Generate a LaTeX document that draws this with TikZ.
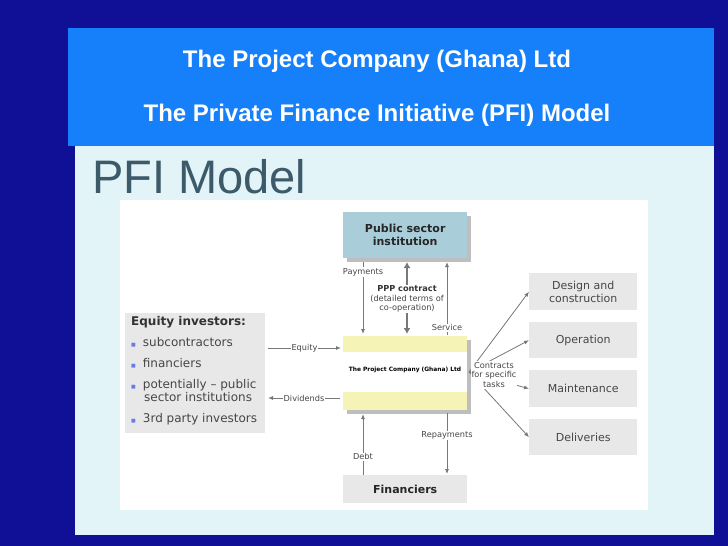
\documentclass[tikz,border=0pt]{standalone}
\usepackage{fontspec}
\setmainfont{DejaVu Sans}
\newfontfamily\banner{Liberation Sans}
\usetikzlibrary{arrows.meta}
\definecolor{bgblue}{RGB}{16,16,150}
\definecolor{banblue}{RGB}{22,128,250}
\definecolor{panel}{RGB}{226,244,248}
\definecolor{pubfill}{RGB}{170,205,218}
\definecolor{yel}{RGB}{246,243,182}
\definecolor{boxgray}{RGB}{232,232,232}
\definecolor{shad}{RGB}{190,190,190}
\definecolor{arr}{RGB}{120,120,120}
\definecolor{titl}{RGB}{60,90,105}
\definecolor{txt}{RGB}{70,70,70}
\newcommand{\bul}{{\color{pubfill!60!blue}\fontsize{5}{5}\selectfont ■}\hspace{7pt}}
\begin{document}
\begin{tikzpicture}[x=1pt,y=-1pt,
  sbox/.style={draw=none,minimum width=124pt,inner sep=0pt,font=\bfseries\fontsize{11}{13}\selectfont,text=black!85},
  rbox/.style={fill=boxgray,minimum width=108pt,inner sep=0pt,align=center,font=\fontsize{11}{13}\selectfont,text=txt},
  lab/.style={font=\fontsize{8.2}{9.5}\selectfont,text=txt,fill=white,inner sep=1pt,align=center},
  ar/.style={draw=arr,line width=0.8pt,-{Latex[length=5pt,width=4pt]}}]
\fill[bgblue] (0,0) rectangle (728,546);
\fill[banblue] (68,28) rectangle (714,146);
\node[text=white,font=\banner\bfseries\fontsize{24}{26}\selectfont] (t1) at (377,61) {The Project Company (Ghana) Ltd};
\node[text=white,font=\banner\bfseries\fontsize{24}{26}\selectfont] (t2) at (377,115) {The Private Finance Initiative (PFI) Model};
\fill[panel] (75,146) rectangle (714,535);
\node[anchor=west,text=titl,font=\banner\fontsize{47}{49}\selectfont,inner sep=0pt] (pfi) at (92,177) {PFI Model};
\fill[white] (120,200) rectangle (648,510);
% shadows
\fill[shad] (347,216) rectangle (471,262);
\fill[shad] (347,340) rectangle (471,414);
% public sector
\node[sbox,fill=pubfill,minimum height=46pt,align=center,anchor=north west] (pub) at (343,212) {Public sector\\institution};
% project company
\fill[yel] (343,336) rectangle (467,410);
\fill[white] (343,352) rectangle (467,392);
\node[font=\bfseries\fontsize{5.9}{6}\selectfont] (pc) at (405,370) {The Project Company (Ghana) Ltd};
\coordinate (pcE) at (469,372);
% equity box
\fill[boxgray] (125,313) rectangle (265,433);
\node[anchor=north west,align=left,inner sep=0pt,font=\fontsize{12}{21}\selectfont,text=txt] (eq) at (131,316)
 {\textbf{\color{black!80}Equity investors:}\\
  \bul subcontractors\\
  \bul financiers\\
  \bul potentially -- public\\[-8pt]
  \hspace{13pt}sector institutions\\
  \bul 3rd party investors};
% financiers
\node[sbox,fill=boxgray,minimum height=28pt,anchor=north west] (fin) at (343,475) {Financiers};
% right boxes
\node[rbox,minimum height=37pt,anchor=north west] (des) at (529,273) {Design and\\construction};
\node[rbox,minimum height=36pt,anchor=north west] (op) at (529,322) {Operation};
\node[rbox,minimum height=37pt,anchor=north west] (mai) at (529,370) {Maintenance};
\node[rbox,minimum height=36pt,anchor=north west] (del) at (529,419) {Deliveries};
% vertical arrows
\coordinate (p1) at (363,262); \coordinate (p2) at (363,334);
\draw[ar] (p1) -- node[lab,pos=0.14] {Payments} (p2);
\coordinate (c1) at (407,262); \coordinate (c2) at (407,334);
\draw[draw=arr,line width=2.2pt,{Latex[length=6pt,width=7pt]}-{Latex[length=6pt,width=7pt]}] (c1) -- (c2);
\node[lab,font=\fontsize{8.2}{9.5}\selectfont] (ppp) at (407,299) {\textbf{\color{black!80}PPP contract}\\(detailed terms of\\co-operation)};
\coordinate (s1) at (447,335); \coordinate (s2) at (447,262);
\draw[ar] (s1) -- node[lab,pos=0.1] {Service} (s2);
\coordinate (d1) at (363,475); \coordinate (d2) at (363,414);
\draw[ar] (d1) -- node[lab,pos=0.3] {Debt} (d2);
\coordinate (r1) at (447,413); \coordinate (r2) at (447,474);
\draw[ar] (r1) -- node[lab,pos=0.37] {Repayments} (r2);
% horizontal
\coordinate (e1) at (268,348); \coordinate (e2) at (341,348);
\draw[ar] (e1) -- node[lab] {Equity} (e2);
\coordinate (v1) at (340,398); \coordinate (v2) at (268,398);
\draw[ar] (v1) -- node[lab] {Dividends} (v2);
% contracts
\draw[ar] (pcE) -- (des.west);
\draw[ar] (pcE) -- (op.west);
\draw[ar] (pcE) -- (mai.west);
\draw[ar] (pcE) -- (del.west);
\node[lab] (con) at (494,375) {Contracts\\for specific\\tasks};
\end{tikzpicture}
\end{document}
